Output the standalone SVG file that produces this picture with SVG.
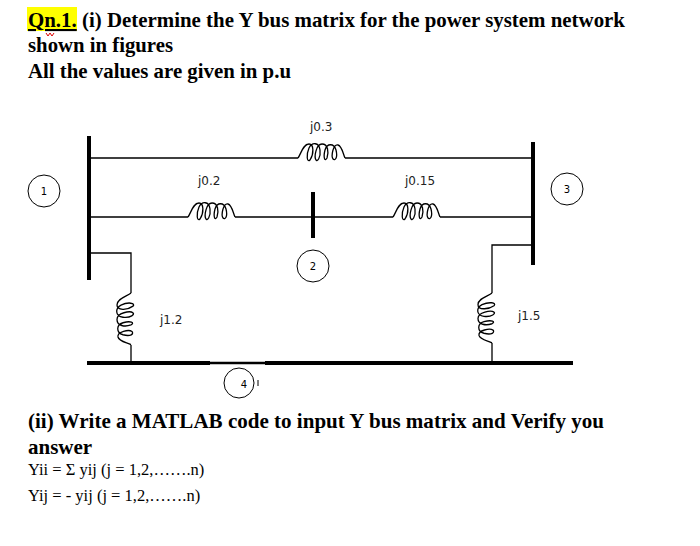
<svg xmlns="http://www.w3.org/2000/svg" width="700" height="546" viewBox="0 0 700 546">
<style>
.w{stroke:#000;stroke-width:1.3;fill:none}
.b{stroke:#000;stroke-width:4;fill:none}
.c{stroke:#000;stroke-width:1;fill:#fff}
.l{font-family:"DejaVu Sans",sans-serif;font-size:12px;fill:#222}
.n{font-family:"DejaVu Sans",sans-serif;font-size:10px;fill:#000;text-anchor:middle}
.t{font-family:"Liberation Serif",serif;font-weight:bold;font-size:21px;fill:#000}
.s{font-family:"Liberation Serif",serif;font-size:16.5px;fill:#000}
</style>
<defs>
<path id="coil" class="w" d="M0,0 C3,-4 5,-14 11,-14 C16,-14 16,-4 12,2 C9,5 8,-3 11,-10 C14,-16 21,-16 22,-8 C23,0 19,4 18,2 C16,-1 18,-14 24,-14 C30,-14 31,-6 29,0 C27,4 25,0 27,-8 C29,-15 36,-15 38,-8 C40,0 37,3 35,1 C33,-2 35,-14 40,-13 C44,-12 45,-4 47,0"/>
</defs>
<rect x="27" y="7" width="50" height="24" fill="#ffff00"/>
<text class="t" x="28" y="27" textLength="597" lengthAdjust="spacingAndGlyphs"><tspan text-decoration="underline">Qn.1.</tspan> (i) Determine the Y bus matrix for the power system network</text>
<path d="M46,33 l2,3 l2,-3 l2,3 l2,-3" stroke="#d00" stroke-width="1" fill="none"/>
<text class="t" x="28" y="52" textLength="145" lengthAdjust="spacingAndGlyphs">shown in figures</text>
<text class="t" x="28" y="78" textLength="263" lengthAdjust="spacingAndGlyphs">All the values are given in p.u</text>
<g id="connectors">
<path class="w" d="M89,158 H298 M345,158 H533"/>
<path class="w" d="M89,217 H188 M235,217 H393 M440,217 H533"/>
<path class="w" d="M89,253 H131 V293 M131,345 V363"/>
<path class="w" d="M533,245 H492 V293 M492,343 V363"/>
<use href="#coil" transform="translate(298,158)"/>
<use href="#coil" transform="translate(188,217)"/>
<use href="#coil" transform="translate(393,217)"/>
<use href="#coil" transform="translate(131,293) rotate(90) scale(1.1,-1)"/>
<use href="#coil" transform="translate(492,293) rotate(90) scale(1.06,-1)"/>
</g>
<g id="bus1"><path class="b" d="M89,136 V280"/><circle class="c" cx="44" cy="191" r="16"/><text class="n" x="44" y="195">1</text></g>
<g id="bus2"><path class="b" d="M313,192 V238"/><circle class="c" cx="313" cy="266" r="16"/><text class="n" x="313" y="270">2</text></g>
<g id="bus3"><path class="b" d="M533,142 V265"/><circle class="c" cx="567" cy="189" r="16"/><text class="n" x="567" y="193">3</text></g>
<g id="bus4"><path class="b" d="M87,363 H210 M265,363 H573"/><path d="M210,363 H265" stroke="#000" stroke-width="2.5"/><circle class="c" cx="239" cy="383" r="15"/><text class="n" x="244" y="388">4</text><path d="M258,380 V386" stroke="#000" stroke-width="1"/></g>
<text class="l" x="310" y="131">j0.3</text>
<text class="l" x="198" y="185">j0.2</text>
<text class="l" x="405" y="185">j0.15</text>
<text class="l" x="160" y="324">j1.2</text>
<text class="l" x="518" y="320">j1.5</text>
<text class="t" x="28" y="428" textLength="576" lengthAdjust="spacingAndGlyphs">(ii) Write a MATLAB code to input Y bus matrix and Verify you</text>
<text class="t" x="28" y="454" font-size="18">answer</text>
<text class="s" x="28" y="475">Yii = Σ yij (j = 1,2,…….n)</text>
<text class="s" x="28" y="501">Yij = - yij (j = 1,2,…….n)</text>
</svg>
